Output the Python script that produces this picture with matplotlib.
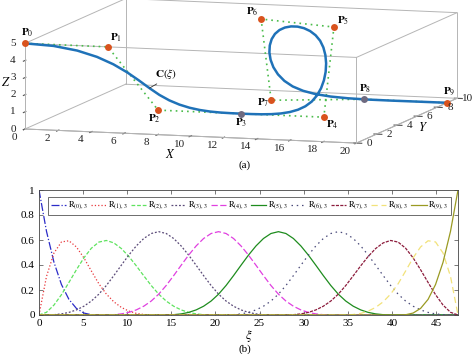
import numpy as np
import matplotlib
matplotlib.use('Agg')
import matplotlib.pyplot as plt
from mpl_toolkits.mplot3d import proj3d

plt.rcParams['font.family'] = ['Liberation Serif', 'DejaVu Serif']
plt.rcParams['mathtext.fontset'] = 'stix'
plt.rcParams['font.size'] = 8

# control points P0..P9
px = [0, 5, 5, 10, 15, 15, 10, 10, 15, 20]
py = [0, 0, 5, 5, 5, 6, 7, 8, 9, 9]
pz = [5, 5, 0, 0, 0, 5, 5, 0, 0, 0]

# basis functions R(i),3 read on a grid of 57 points over xi = 0 .. 47.5
xi = np.linspace(0, 47.5, 57)
r0 = [1, .6699, .4219, .2441, .125, .0527, .0156, .0020, 0]
r1 = [0, .3081, .4961, .5845, .5938, .5444, .4570, .3521, .25, .1675, .1055, .0610,
      .0313, .0132, .0039, .0005, 0]
r2 = [0, .0216, .0794, .1626, .2604, .3621, .4570, .5343, .5833, .5962, .5768, .5321,
      .4688, .3937, .3138, .2358, .1667, .1117, .0703, .0407, .0208, .0088, .0026, .0003, 0]
r3 = [0, .0003, .0026, .0088, .0208, .0407, .0703, .1117, .1667, .2360, .3151, .3981,
      .4792, .5524, .6120, .6520, .6667, .6520, .6120, .5524, .4792, .3981, .3151, .2360,
      .1667, .1117, .0703, .0407, .0208, .0088, .0026, .0003, 0]
r4 = [0, .0003, .0026, .0088, .0208, .0407, .0703, .1117, .1667, .2360, .3151, .3981,
      .4792, .5524, .6120, .6520, .6667, .6520, .6120, .5524, .4792, .3981, .3151, .2360,
      .1667, .1117, .0703, .0407, .0208, .0088, .0026, .0003, 0]
r5 = [0, .0003, .0026, .0088, .0208, .0407, .0703, .1117, .1667, .2360, .3151, .3981,
      .4792, .5524, .6120, .6520, .6667, .6520, .6120, .5524, .4792, .3981, .3151, .2360,
      .1667, .1117, .0703, .0407, .0208, .0088, .0026, .0003, 0]
r6 = [0, .0003, .0026, .0088, .0208, .0407, .0703, .1117, .1667, .2360, .3151, .3981,
      .4792, .5524, .6120, .6520, .6667, .6520, .6120, .5524, .4792, .3981, .3151, .2360,
      .1667, .1117, .0703, .0407, .0208, .0088, .0026, .0003, 0]
r7 = [0, .0003, .0026, .0088, .0208, .0407, .0703, .1117, .1667, .2358, .3138, .3937,
      .4688, .5321, .5768, .5962, .5833, .5343, .4570, .3621, .2604, .1626, .0794, .0216, 0]
r8 = [0, .0005, .0039, .0132, .0313, .0610, .1055, .1675, .25, .3521, .4570, .5444,
      .5938, .5845, .4961, .3081, 0]
r9 = [0, .0020, .0156, .0527, .125, .2441, .4219, .6699, 1]
# grid index where each function starts
starts = [0, 0, 0, 0, 8, 16, 24, 32, 40, 48]

labels = [r'$\mathrm{R}_{(%d),3}$' % i for i in range(10)]
colors = ['#2c2cc8', '#e8383c', '#5fe35f', '#5a4a78', '#e040e0',
          '#1e8c1e', '#4a4a7a', '#8c1c3c', '#f2e27a', '#9a9a22']
styles = ['-.', ':', (0, (3, 1.5)), (0, (1.5, 1.5)), (0, (5, 2)),
          '-', (0, (1.2, 3)), (0, (2.5, 1)), (0, (5, 3)), '-']

xticks3 = [0, 2, 4, 6, 8, 10, 12, 14, 16, 18, 20]
yticks3 = [0, 2, 4, 6, 8, 10]
zticks3 = [0, 1, 2, 3, 4, 5]

basis = np.zeros((10, len(xi)))
for i, vals in enumerate([r0, r1, r2, r3, r4, r5, r6, r7, r8, r9]):
    basis[i, starts[i]:starts[i] + len(vals)] = vals

# curve C(xi) = sum R_i P_i
cx = basis.T @ np.array(px, float)
cy = basis.T @ np.array(py, float)
cz = basis.T @ np.array(pz, float)

W, H = 474, 354
fig = plt.figure(figsize=(W / 100, H / 100), dpi=100)

# ---------------- (b) basis functions ----------------
ax2 = fig.add_axes([39 / W, (H - 315) / H, 419 / W, 125 / H])
for i in range(10):
    ax2.plot(xi, basis[i], color=colors[i], linestyle=styles[i], lw=0.9, label=labels[i])
ax2.set_xlim(0, 47.5)
ax2.set_ylim(0, 1)
ax2.set_xticks(np.arange(0, 46, 5))
ax2.set_yticks([0, 0.2, 0.4, 0.6, 0.8, 1])
ax2.set_yticklabels(['0', '0.2', '0.4', '0.6', '0.8', '1'])
ax2.tick_params(direction='in', top=True, right=True, length=3, width=0.5,
                labelsize=8, pad=3, color='#444444')
for s in ax2.spines.values():
    s.set_color('#444444')
    s.set_linewidth(0.6)
ax2.set_xlabel(r'$\xi$', fontsize=9, labelpad=0)
leg = ax2.legend(ncol=10, loc='upper center', bbox_to_anchor=(0.502, 0.945), fontsize=6.2,
                 handlelength=1.8, handletextpad=0.2, columnspacing=0.35,
                 borderpad=0.35, borderaxespad=0, fancybox=False, framealpha=1)
leg.get_frame().set_edgecolor('#555555')
leg.get_frame().set_linewidth(0.6)
fig.text(245 / W, 1 - 349 / H, '(b)', ha='center', va='center', fontsize=8)

# ---------------- (a) 3D curve ----------------
ax = fig.add_axes([0.0, 0.0, 1.0, W / H], projection='3d', proj_type='ortho')
ax.patch.set_visible(False)
ax.computed_zorder = False
ax.set_xlim(0, 20)
ax.set_ylim(0, 10)
ax.set_zlim(0, 5)
ax.set_box_aspect((345, 339, 86))
ax.view_init(elev=7.9, azim=-72.84)
ax.grid(False)
for a in (ax.xaxis, ax.yaxis, ax.zaxis):
    a.pane.fill = False
    a.pane.set_edgecolor((1, 1, 1, 0))
    a.line.set_color('#9a9a9a')
    a.line.set_linewidth(0.7)
ax.zaxis.set_ticks_position('lower')
ax.set_xticks(xticks3)
ax.set_yticks(yticks3)
ax.set_zticks(zticks3)
ax.set_xticklabels([])
ax.set_yticklabels([])
ax.set_zticklabels([])
ax.tick_params(axis='both', color='#555555')

# box edges
bx, by, bz = (0, 20), (0, 10), (0, 5)
for y0 in by:
    for z0 in bz:
        ax.plot(bx, [y0, y0], [z0, z0], color='#b5b5b5', lw=0.7, zorder=0)
for x0 in bx:
    for z0 in bz:
        ax.plot([x0, x0], by, [z0, z0], color='#b5b5b5', lw=0.7, zorder=0)
for x0 in bx:
    for y0 in by:
        ax.plot([x0, x0], [y0, y0], bz, color='#b5b5b5', lw=0.7, zorder=0)

ax.plot(px, py, pz, color='#4cbc4c', ls=(0, (1, 2.4)), lw=1.2, zorder=1)
ax.plot(cx, cy, cz, color='#1f72b8', lw=1.8, zorder=2)
mcol = ['#d9531e'] * 10
mcol[3] = '#6e6a80'
mcol[8] = '#6e6a80'
for i in range(10):
    ax.plot([px[i]], [py[i]], [pz[i]], 'o', color=mcol[i], ms=5, mec='none', zorder=3)

# fit the projected box onto the figure
fig.canvas.draw()


def to2d(x, y, z):
    X, Y, _ = proj3d.proj_transform(x, y, z, ax.get_proj())
    return X, Y


def to_px(x, y, z):
    return ax.transData.transform(to2d(x, y, z))


a0 = np.array(to_px(0, 0, 0))
b0 = np.array(to_px(20, 10, 0))
k = (457 - 25) / (b0[0] - a0[0])
bb = ax.get_position()
c0 = np.array([(bb.x0 + bb.x1) / 2 * W, (bb.y0 + bb.y1) / 2 * H])
size = bb.width * W * k
c1 = np.array([25, H - 129]) - k * (a0 - c0)
ax.set_position([(c1[0] - size / 2) / W, (c1[1] - size / 2) / H, size / W, size / H])


def label_at(s, p, dx, dy, **kw):
    # dx, dy in pixels, dy downward
    ax.annotate(s, xy=to2d(*p), xytext=(dx * 0.72, -dy * 0.72), textcoords='offset points',
                ha='center', va='center', **kw)


# tick labels
for v in xticks3:
    label_at(str(v), (v, 0, 0), -11, 8, fontsize=8, color='#222222')
for v in yticks3:
    label_at(str(v), (20, v, 0), 10.5 if v == 10 else 13, 0, fontsize=8, color='#222222')
for v in zticks3:
    label_at(str(v), (0, 0, v), -12, 0, fontsize=8, color='#222222')
fig.text(170 / W, 1 - 155 / H, '$X$', ha='center', va='center', fontsize=9)
fig.text(423 / W, 1 - 127 / H, '$Y$', ha='center', va='center', fontsize=9)
fig.text(6 / W, 1 - 83 / H, '$Z$', ha='center', va='center', fontsize=9)

# point labels
offs = [(2, -11), (8, -9), (-4, 9), (0, 9), (8, 8), (9, -6), (-9, -7), (-8, 3), (1, -11), (2, -12)]
for i in range(10):
    label_at(r'$\mathbf{P}_{%d}$' % i, (px[i], py[i], pz[i]), offs[i][0], offs[i][1], fontsize=8)
ax.annotate(r'$\mathbf{C}(\xi)$', xy=to2d(cx[7], cy[7], cz[7]), xytext=(17 * 0.72, 14 * 0.72),
            textcoords='offset points', ha='center', va='center', fontsize=8,
            arrowprops=dict(arrowstyle='-', color='#333333', lw=0.6, relpos=(1, 0),
                            shrinkA=0, shrinkB=0,
                            connectionstyle='angle,angleA=0,angleB=30,rad=0'))
fig.text(245 / W, 1 - 165 / H, '(a)', ha='center', va='center', fontsize=8)

fig.savefig('out.png', dpi=100)
